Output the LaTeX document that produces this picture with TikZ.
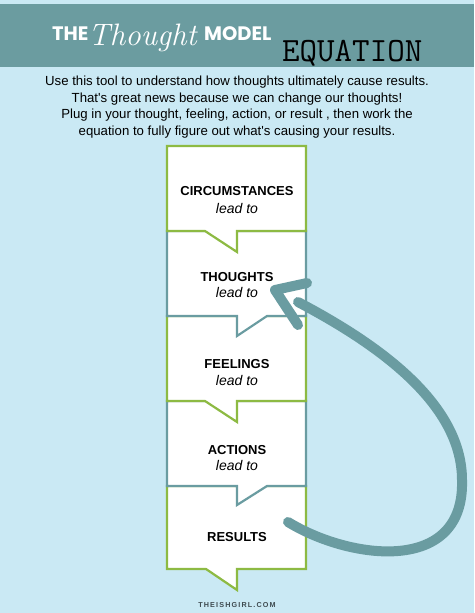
\documentclass[tikz,border=0pt]{standalone}
\usepackage{fontspec}
\newfontfamily\bodyfont{Liberation Sans}
\newfontfamily\headfont{Poppins}
\definecolor{skyback}{HTML}{CAE9F4}
\definecolor{bandteal}{HTML}{6B9CA0}
\definecolor{modelteal}{HTML}{6A9CA1}
\definecolor{modelgreen}{HTML}{8DBA43}
\definecolor{footgray}{HTML}{3F4B50}

\begin{document}
\begin{tikzpicture}[x=1pt, y=-1pt,
    stepline/.style={fill=white, line width=2.2pt, line join=miter},
    titlebold/.style={font=\headfont\bfseries\fontsize{19.5}{22}\selectfont, text=white, inner sep=0pt, anchor=base west},
    boxtitle/.style={font=\bodyfont\bfseries\fontsize{13}{15}\selectfont, inner sep=0pt, anchor=base},
    leadtext/.style={font=\bodyfont\itshape\fontsize{14}{16}\selectfont, inner sep=0pt, anchor=base},
    loopline/.style={draw=modelteal, line width=10pt, line cap=round, line join=round}]

    % Background and title band
    \fill[skyback] (0,0) rectangle (474,613);
    \fill[bandteal] (0,4) rectangle (474,67);
    \useasboundingbox (0,0) rectangle (474,613);

    % Title
    \node[titlebold] (the) at (52,40) {THE};
    \node[font=\itshape\fontsize{31}{31}\selectfont, text=white, inner sep=0pt, anchor=base west] (thought) at (88,45) {Thought};
    \node[titlebold] (model) at (204,40) {MODEL};
    \node[font=\ttfamily\fontsize{34}{34}\selectfont, inner sep=0pt, anchor=base west] (equation) at (282,61) {EQUATION};

    % Intro text
    \node[font=\bodyfont\fontsize{13.2}{16.7}\selectfont, align=center, inner sep=0pt] (intro) at (237,107)
        {Use this tool to understand how thoughts ultimately cause results.\\
         That's great news because we can change our thoughts!\\
         Plug in your thought, feeling, action, or result , then work the\\
         equation to fully figure out what's causing your results.};

    % Boxes, bottom first so every tail lies over the box below it
    \draw[stepline, draw=modelgreen] (167,486) -- (306,486) -- (306,569) -- (237,569) -- (237,590) -- (206,569) -- (167,569) -- cycle; % results
    \draw[stepline, draw=modelteal] (167,401) -- (306,401) -- (306,486) -- (267,486) -- (237,505) -- (237,486) -- (167,486) -- cycle; % actions
    \draw[stepline, draw=modelgreen] (167,316) -- (306,316) -- (306,401) -- (237,401) -- (237,422) -- (205,401) -- (167,401) -- cycle; % feelings
    \draw[stepline, draw=modelteal] (167,231) -- (306,231) -- (306,316) -- (267,316) -- (237,336) -- (237,316) -- (167,316) -- cycle; % thoughts
    \draw[stepline, draw=modelgreen] (167,146) -- (306,146) -- (306,231) -- (237,231) -- (237,252) -- (205,231) -- (167,231) -- cycle; % circumstances

    % Box texts
    \node[boxtitle] (circ) at (237,195) {CIRCUMSTANCES};
    \node[leadtext] (circlead) at (237,213) {lead to};
    \node[boxtitle] (thoughts) at (237,281) {THOUGHTS};
    \node[leadtext] (thoughtslead) at (237,297) {lead to};
    \node[boxtitle] (feelings) at (237,368) {FEELINGS};
    \node[leadtext] (feelingslead) at (237,385) {lead to};
    \node[boxtitle] (actions) at (237,454) {ACTIONS};
    \node[leadtext] (actionslead) at (237,470) {lead to};
    \node[boxtitle] (results) at (237,541) {RESULTS};

    % Footer
    \node[font=\bodyfont\bfseries\addfontfeature{LetterSpace=16}\fontsize{7.2}{8}\selectfont, text=footgray, inner sep=0pt, anchor=base] (site) at (237,607) {THEISHGIRL.COM};

    % Loop arrow from results back to thoughts
    \coordinate (loopstart) at (288,522);
    \coordinate (loopturn) at (462,480);
    \coordinate (loopend) at (298,302);
    \coordinate (headtip) at (275,290);
    \draw[loopline] (loopstart) .. controls (350,560) and (465,575) .. (loopturn) .. controls (462,400) and (370,340) .. (loopend);
    \draw[loopline] (307,283) -- (headtip) -- (298,325);
\end{tikzpicture}
\end{document}
